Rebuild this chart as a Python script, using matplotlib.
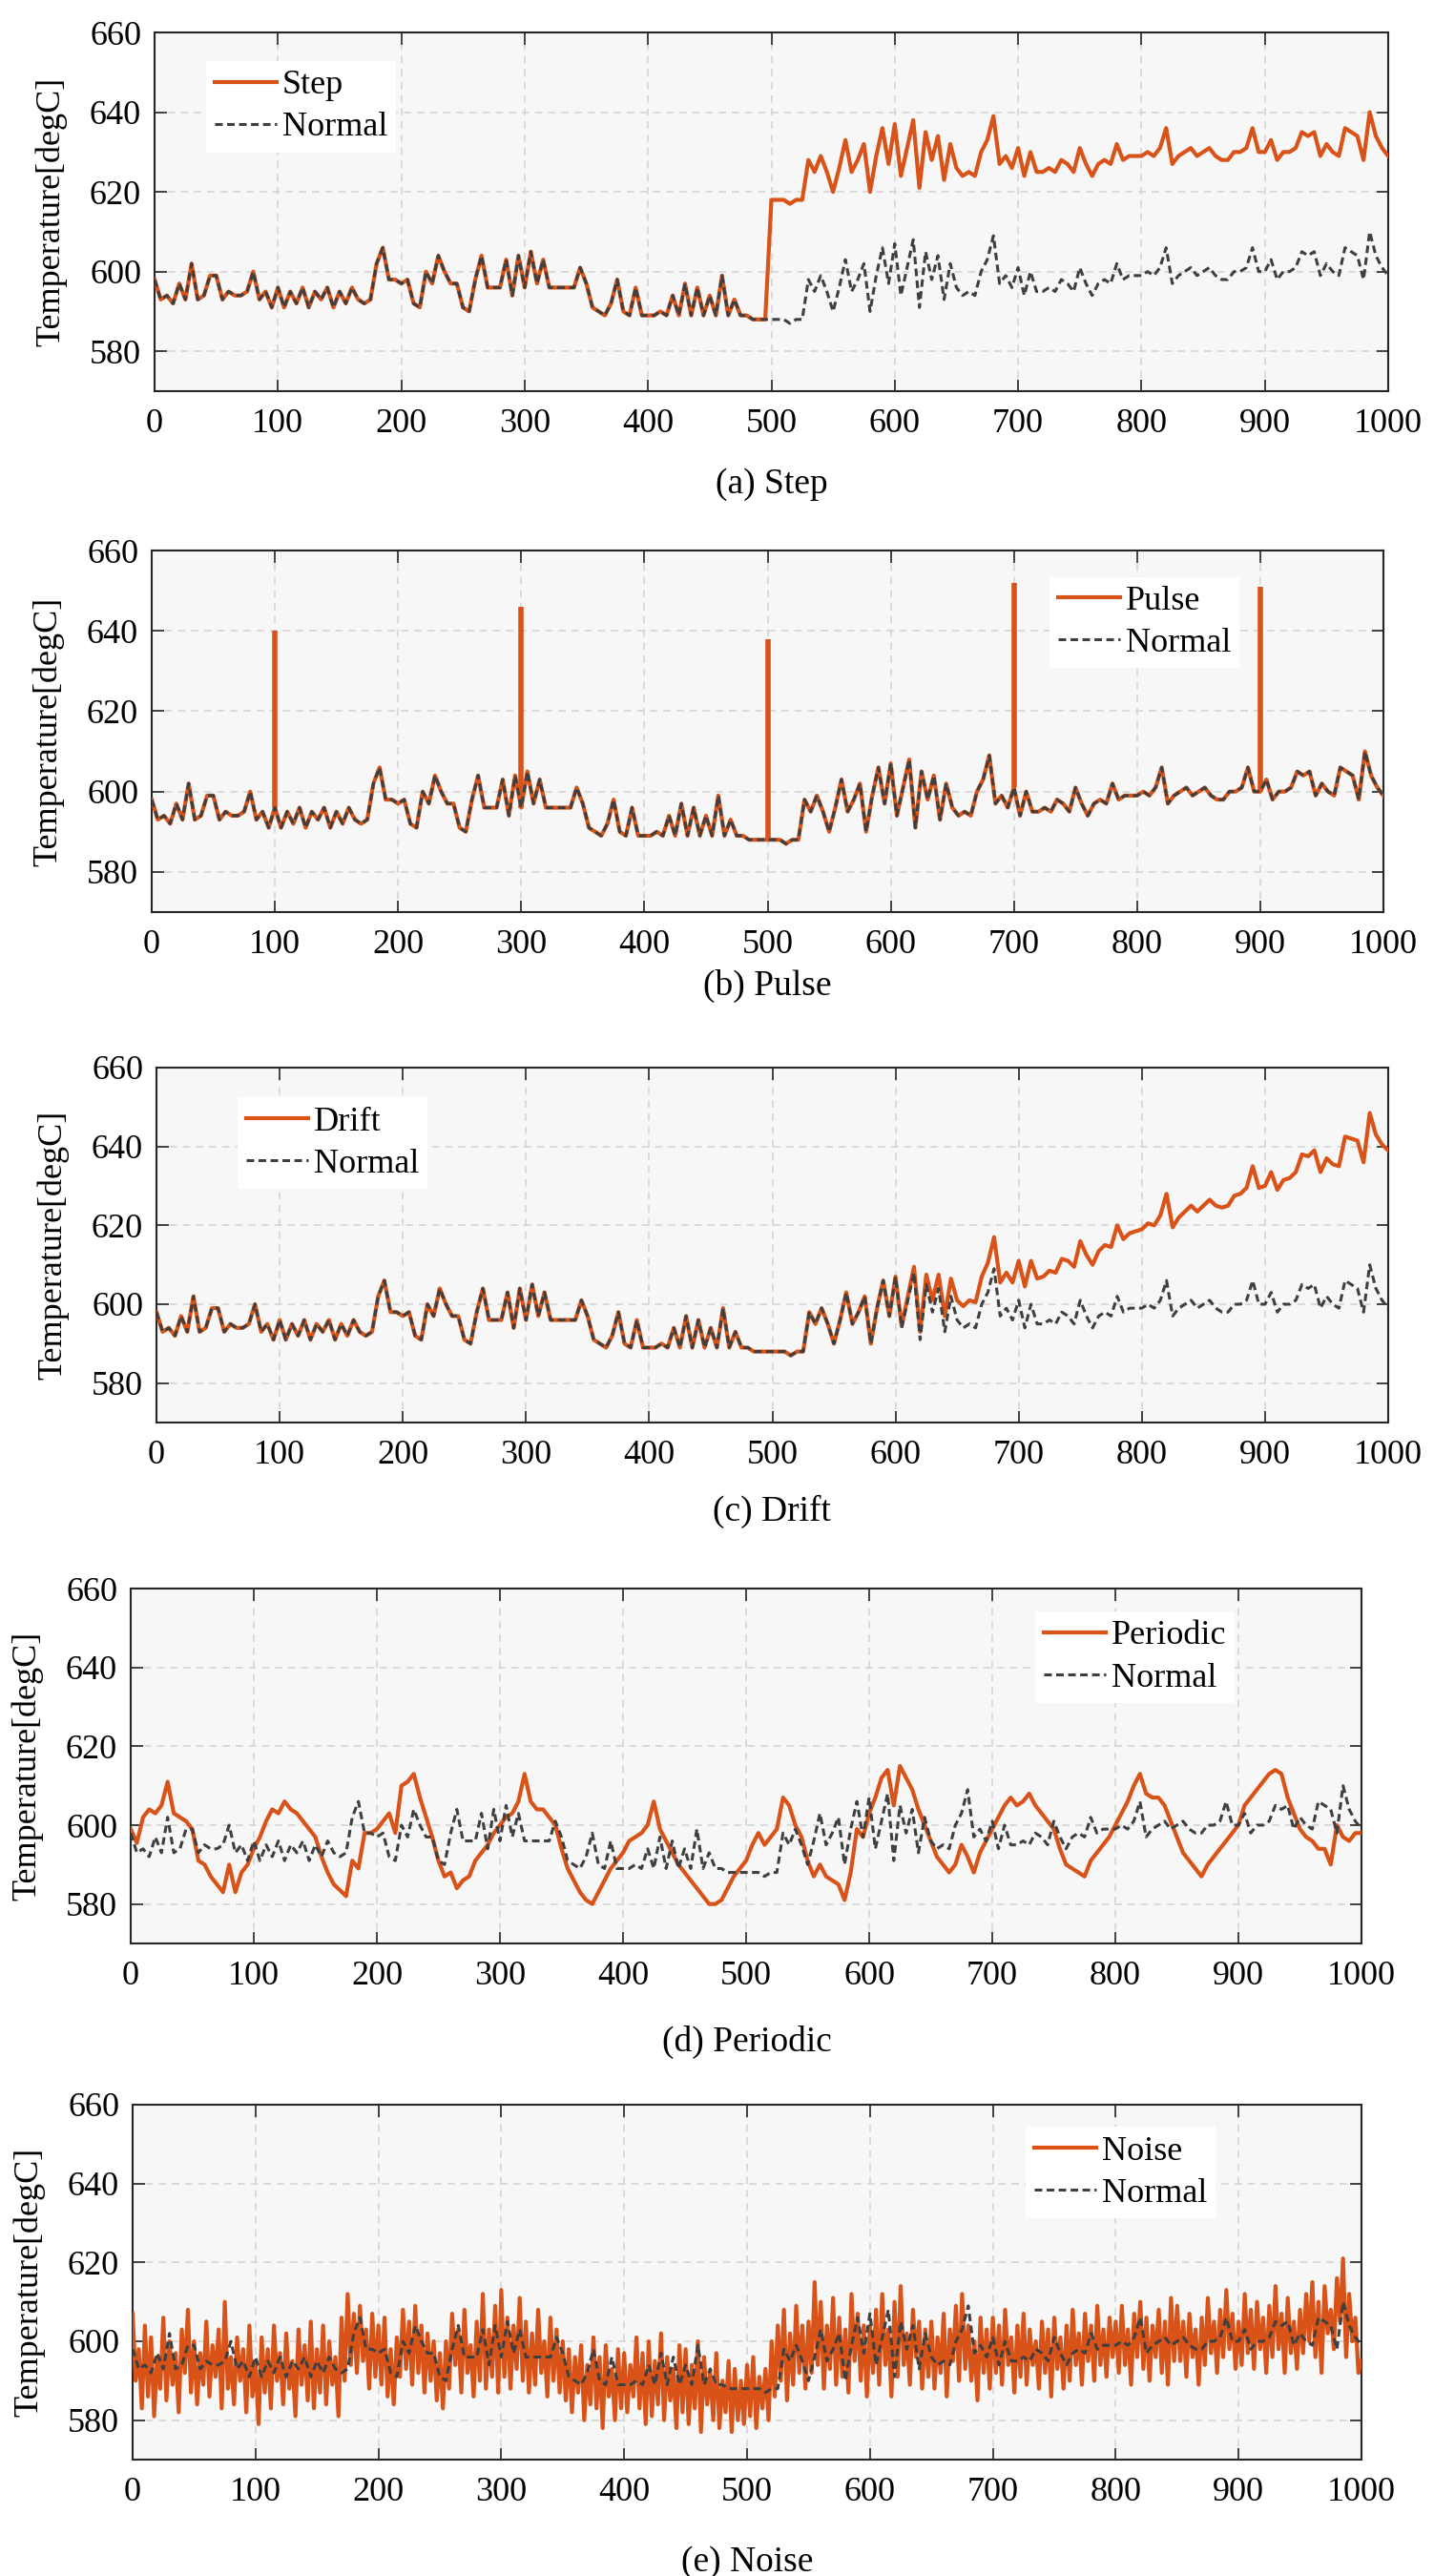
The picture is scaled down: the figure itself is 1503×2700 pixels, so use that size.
import numpy as np
import matplotlib
matplotlib.use('Agg')
import matplotlib.pyplot as plt

# sample index, every 5th sample
t = np.arange(0, 1001, 5)
# the noise panel is read at every 2.5 samples
t_noise = np.arange(0, 1000.1, 2.5)

normal = [598, 593, 594, 592, 597, 593, 602, 593, 594, 599,
          599, 593, 595, 594, 594, 595, 600, 593, 595, 591,
          596, 591, 595, 592, 596, 591, 595, 593, 596, 591,
          595, 592, 596, 593, 592, 593, 602, 606, 598, 598,
          597, 598, 592, 591, 600, 597, 604, 600, 597, 597,
          591, 590, 598, 604, 596, 596, 596, 603, 594, 604,
          596, 605, 597, 603, 596, 596, 596, 596, 596, 601,
          597, 591, 590, 589, 592, 598, 590, 589, 596, 589,
          589, 589, 590, 589, 594, 589, 597, 589, 596, 589,
          594, 589, 599, 589, 593, 589, 589, 588, 588, 588,
          588, 588, 588, 587, 588, 588, 598, 595, 599, 595,
          590, 596, 603, 595, 598, 602, 590, 599, 606, 597,
          607, 594, 601, 608, 591, 605, 598, 604, 593, 602,
          596, 594, 595, 594, 600, 603, 609, 597, 599, 596,
          601, 594, 600, 595, 595, 596, 595, 598, 597, 595,
          601, 597, 594, 597, 598, 597, 602, 598, 599, 599,
          599, 600, 599, 601, 606, 597, 599, 600, 601, 599,
          600, 601, 599, 598, 598, 600, 600, 601, 606, 600,
          600, 603, 598, 600, 600, 601, 605, 604, 605, 599,
          602, 600, 599, 606, 605, 604, 598, 610, 604, 601,
          599]

# step: same as normal before sample 500, these values from 500 on
step_tail = [618, 618, 618, 617, 618, 618, 628, 625, 629, 625,
             620, 626, 633, 625, 628, 632, 620, 629, 636, 627,
             637, 624, 631, 638, 621, 635, 628, 634, 623, 632,
             626, 624, 625, 624, 630, 633, 639, 627, 629, 626,
             631, 624, 630, 625, 625, 626, 625, 628, 627, 625,
             631, 627, 624, 627, 628, 627, 632, 628, 629, 629,
             629, 630, 629, 631, 636, 627, 629, 630, 631, 629,
             630, 631, 629, 628, 628, 630, 630, 631, 636, 630,
             630, 633, 628, 630, 630, 631, 635, 634, 635, 629,
             632, 630, 629, 636, 635, 634, 628, 640, 634, 631,
             629]

# pulse: single-sample spikes on top of normal
pulse_t = [100, 300, 500, 700, 900]
pulse_peak = [640, 646, 638, 652, 651]

# drift: same as normal before sample 600, these values from 600 on
drift_tail = [607, 594.5, 602, 609.5, 593, 607.5, 601, 607.5, 597, 606.5,
              601, 599.5, 601, 600.5, 607, 610.5, 617, 605.5, 608, 605.5,
              611, 604.5, 611, 606.5, 607, 608.5, 608, 611.5, 611, 609.5,
              616, 612.5, 610, 613.5, 615, 614.5, 620, 616.5, 618, 618.5,
              619, 620.5, 620, 622.5, 628, 619.5, 622, 623.5, 625, 623.5,
              625, 626.5, 625, 624.5, 625, 627.5, 628, 629.5, 635, 629.5,
              630, 633.5, 629, 631.5, 632, 633.5, 638, 637.5, 639, 633.5,
              637, 635.5, 635, 642.5, 642, 641.5, 636, 648.5, 643, 640.5,
              639]

periodic = [599, 595.5, 602, 604, 603, 605, 611, 603, 602, 601,
            599, 591, 590, 587, 585, 583, 590, 583, 588, 590,
            594, 597, 601, 604, 603, 606, 604, 603, 601, 599,
            597, 592, 588, 585, 583.5, 582, 591, 589, 598, 598,
            599, 601, 603, 598, 610, 611, 613, 607, 602, 597,
            591, 587, 588, 584, 586, 587, 591, 593, 595, 598,
            600, 602, 603, 606, 613, 606, 604, 604, 602, 600,
            594, 589, 586, 583, 581, 580, 583, 586, 589, 591,
            593, 596, 597, 598, 600, 606, 599, 596, 593, 590,
            588, 586, 584, 582, 580, 580, 581, 584, 587, 589,
            591, 595, 598, 595, 597, 599, 607, 605, 600, 597,
            591, 587, 590, 587, 586, 585, 581, 588, 599, 597,
            603, 607, 612, 614, 605, 615, 612, 609, 604, 600,
            596, 592, 590, 588, 590, 595, 592, 588, 593, 596,
            599, 602, 605, 607, 605, 606, 608, 605, 603, 601,
            599, 594, 590, 589, 588, 587, 591, 593, 595, 597,
            600, 603, 606, 610, 613, 608, 607, 607, 605, 601,
            597, 593, 591, 589, 587, 590, 592, 594, 596, 598,
            600, 605, 607, 609, 611, 613, 614, 613, 607, 603,
            599, 597, 596, 594, 594, 590, 600, 597, 596, 598,
            598]

noise = [607, 590, 598, 583, 604, 586, 601, 581, 596, 588, 606, 585, 600, 589, 597, 582, 603, 592, 608, 587,
         600, 584, 597, 589, 605, 586, 599, 591, 603, 583, 610, 588, 596, 584, 601, 590, 598, 582, 604, 586,
         595, 579, 601, 587, 598, 583, 604, 590, 597, 584, 602, 588, 595, 581, 603, 589, 599, 585, 605, 583,
         598, 587, 604, 584, 600, 589, 596, 581, 606, 590, 612, 594, 607, 592, 609, 595, 603, 588, 607, 591,
         604, 589, 606, 586, 598, 584, 601, 591, 608, 593, 605, 589, 609, 592, 604, 587, 602, 590, 600, 585,
         597, 583, 600, 588, 607, 594, 603, 587, 608, 592, 599, 586, 605, 590, 612, 588, 603, 591, 609, 587,
         613, 591, 606, 588, 604, 593, 611, 590, 605, 587, 602, 589, 608, 592, 600, 586, 606, 590, 603, 587,
         600, 585, 598, 582, 596, 587, 599, 580, 594, 584, 601, 583, 596, 578, 599, 586, 593, 580, 598, 583,
         597, 582, 594, 586, 601, 583, 597, 579, 600, 581, 595, 584, 602, 580, 596, 585, 593, 578, 599, 582,
         598, 579, 594, 583, 600, 577, 596, 584, 592, 580, 597, 578, 590, 582, 595, 577, 593, 580, 590, 579,
         594, 581, 596, 578, 591, 583, 593, 580, 600, 586, 604, 590, 608, 585, 602, 589, 609, 592, 604, 588,
         605, 592, 615, 594, 610, 588, 604, 593, 611, 589, 606, 591, 603, 587, 612, 595, 607, 590, 604, 586,
         604, 592, 608, 589, 612, 594, 603, 586, 610, 591, 614, 594, 602, 589, 608, 596, 605, 588, 603, 591,
         605, 588, 601, 592, 607, 586, 603, 595, 609, 590, 612, 593, 604, 590, 600, 585, 606, 592, 603, 588,
         606, 592, 604, 589, 608, 594, 601, 587, 604, 591, 607, 589, 603, 594, 600, 588, 605, 592, 603, 586,
         606, 593, 601, 588, 604, 590, 608, 594, 602, 589, 607, 595, 604, 590, 609, 594, 603, 591, 606, 596,
         605, 592, 609, 594, 603, 589, 607, 596, 610, 593, 606, 590, 604, 596, 608, 592, 605, 589, 611, 595,
         609, 595, 605, 591, 607, 596, 603, 589, 606, 594, 611, 597, 605, 592, 608, 596, 613, 598, 607, 593,
         605, 594, 612, 597, 608, 593, 610, 598, 606, 592, 609, 596, 614, 598, 607, 592, 611, 597, 605, 593,
         608, 597, 612, 600, 615, 596, 610, 592, 614, 602, 608, 598, 616, 605, 621, 596, 612, 600, 606, 592,
         595]

captions = ['(a) Step', '(b) Pulse', '(c) Drift', '(d) Periodic', '(e) Noise']
labels = ['Step', 'Pulse', 'Drift', 'Periodic', 'Noise']

ORANGE = '#D95319'
GREY = '#3f3f3f'

plt.rcParams['font.family'] = 'serif'
plt.rcParams['font.serif'] = ['Liberation Serif', 'Times New Roman', 'Nimbus Roman', 'DejaVu Serif']

fig = plt.figure(figsize=(15.03, 27.0), dpi=100)
W, H = 1503.0, 2700.0

# axes boxes in pixels: left, right, top, bottom
boxes = [(162, 1455, 34, 410),
         (159, 1450, 577, 956),
         (164, 1455, 1119, 1491),
         (137, 1427, 1665, 2037),
         (139, 1427, 2206, 2578)]
caption_xy = [(809, 508), (804, 1033), (809, 1584), (783, 2140), (783, 2686)]
legend_anchor = [(0.042, 0.92), (0.729, 0.927), (0.066, 0.916),
                 (0.735, 0.935), (0.727, 0.937)]

normal = np.array(normal, dtype=float)
series = [(t, np.concatenate([normal[:100], step_tail])),
          (t, normal.copy()),
          (t, np.concatenate([normal[:120], drift_tail])),
          (t, np.array(periodic, dtype=float)),
          (t_noise, np.array(noise, dtype=float))]

for i in range(5):
    l, r, tp, b = boxes[i]
    ax = fig.add_axes([l / W, 1 - b / H, (r - l) / W, (b - tp) / H])
    ax.set_facecolor('#F7F7F7')

    xs, ys = series[i]
    ax.plot(xs, ys, color=ORANGE, lw=3.0, label=labels[i], zorder=3)
    if i == 1:
        base = [normal[list(t).index(p)] for p in pulse_t]
        ax.vlines(pulse_t, base, pulse_peak, color=ORANGE, lw=4, zorder=3)
    ax.plot(t, normal, color=GREY, lw=2.2, linestyle=(0, (2.6, 1.5)),
            label='Normal', zorder=4)

    ax.set_xlim(0, 1000)
    ax.set_ylim(570, 660)
    ax.set_xticks(range(0, 1001, 100))
    ax.set_yticks(range(580, 661, 20))
    ax.grid(True, color='#d2d2d2', linestyle=(0, (5, 4)), linewidth=1.1)
    ax.set_axisbelow(True)
    ax.tick_params(direction='in', top=True, right=True, length=9, width=1.2,
                   labelsize=26, color='#262626')
    ax.tick_params(axis='x', pad=13)
    ax.tick_params(axis='y', pad=10)
    for s in ax.spines.values():
        s.set_linewidth(1.5)
        s.set_color('#262626')

    ax.set_ylabel('Temperature[degC]', fontsize=26)
    ax.yaxis.set_label_coords(-0.071, 0.5)

    leg = ax.legend(loc='upper left', bbox_to_anchor=legend_anchor[i],
                    frameon=True, fancybox=False, framealpha=1,
                    fontsize=26, handlelength=1.8, handletextpad=0.15,
                    labelspacing=0.3, borderpad=0.25, borderaxespad=0)
    leg.get_frame().set_edgecolor('white')
    leg.get_frame().set_linewidth(0)

    cx, cy = caption_xy[i]
    fig.text(cx / W, 1 - cy / H, captions[i], fontsize=27,
             ha='center', va='center')

fig.savefig('out.png', dpi=100, facecolor='white')
